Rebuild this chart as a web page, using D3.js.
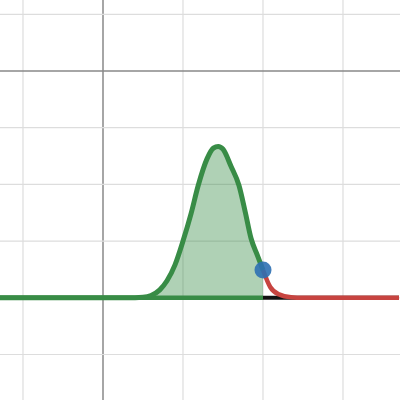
<!DOCTYPE html>
<html>
  <head>
    <meta charset="UTF-8">
    <script src="https://d3js.org/d3.v7.min.js"></script>
    <style>
      body { margin: 0; background: #fff; }
    </style>
  </head>
  <body>
    <svg id="f1" height="400" width="400"></svg>
    <script>
    // grid ticks (graph units)
    var xTicks = [-1, 0, 1, 2, 3];
    var yTicks = [1, 0, -1, -2, -3, -4, -5];
    var baseY = -4;
    // curve: x, height above baseline
    var greenX = [-1.4, 0.3, 0.5, 0.6, 0.71, 0.8, 0.9, 1.0, 1.1, 1.19, 1.3, 1.38, 1.44, 1.5, 1.6, 1.7, 1.78, 1.85, 1.93, 2.0];
    var greenH = [0, 0, 0.01, 0.04, 0.14, 0.3, 0.58, 1.0, 1.48, 1.98, 2.45, 2.64, 2.67, 2.62, 2.32, 1.98, 1.5, 1.05, 0.75, 0.49];
    var redX = [2.0, 2.09, 2.2, 2.35, 2.5, 3.7];
    var redH = [0.49, 0.19, 0.06, 0.01, 0, 0];
    var point = [2.0, 0.49];

    var svg = d3.select("#f1");
    var x = d3.scaleLinear().domain([0, 1]).range([103, 183]);
    var y = d3.scaleLinear().domain([0, -1]).range([71, 127.7]);

    // grid
    svg.selectAll(".vx").data(xTicks).enter().append("line")
      .attr("x1", d => x(d)).attr("x2", d => x(d)).attr("y1", 0).attr("y2", 400)
      .attr("stroke", d => d == 0 ? "#888" : "#ddd").attr("stroke-width", d => d == 0 ? 1.5 : 1.2);
    svg.selectAll(".hy").data(yTicks).enter().append("line")
      .attr("y1", d => y(d)).attr("y2", d => y(d)).attr("x1", 0).attr("x2", 400)
      .attr("stroke", d => d == 0 ? "#888" : "#ddd").attr("stroke-width", d => d == 0 ? 1.5 : 1.2);

    var green = greenX.map((v, i) => [v, greenH[i]]);
    var red = redX.map((v, i) => [v, redH[i]]);

    var area = d3.area().curve(d3.curveMonotoneX)
      .x(d => x(d[0])).y0(y(baseY)).y1(d => y(baseY + d[1]));
    var line = d3.line().curve(d3.curveMonotoneX)
      .x(d => x(d[0])).y(d => y(baseY + d[1]));

    svg.append("path").attr("d", area(green)).attr("fill", "#388c46").attr("opacity", 0.4);
    // baseline under red part
    svg.append("line").attr("x1", x(2)).attr("x2", x(3.7)).attr("y1", y(baseY)).attr("y2", y(baseY))
      .attr("stroke", "#111").attr("stroke-width", 4);
    svg.append("path").attr("d", line(red)).attr("fill", "none")
      .attr("stroke", "#c74440").attr("stroke-width", 4.5);
    svg.append("line").attr("x1", x(-1.4)).attr("x2", x(2)).attr("y1", y(baseY)).attr("y2", y(baseY))
      .attr("stroke", "#388c46").attr("stroke-width", 4.5);
    svg.append("path").attr("d", line(green)).attr("fill", "none")
      .attr("stroke", "#388c46").attr("stroke-width", 5).attr("stroke-linejoin", "round");
    svg.append("circle").attr("cx", x(point[0])).attr("cy", y(baseY + point[1])).attr("r", 8.5)
      .attr("fill", "#2d70b3").attr("opacity", 0.9);
    </script>
  </body>
</html>
